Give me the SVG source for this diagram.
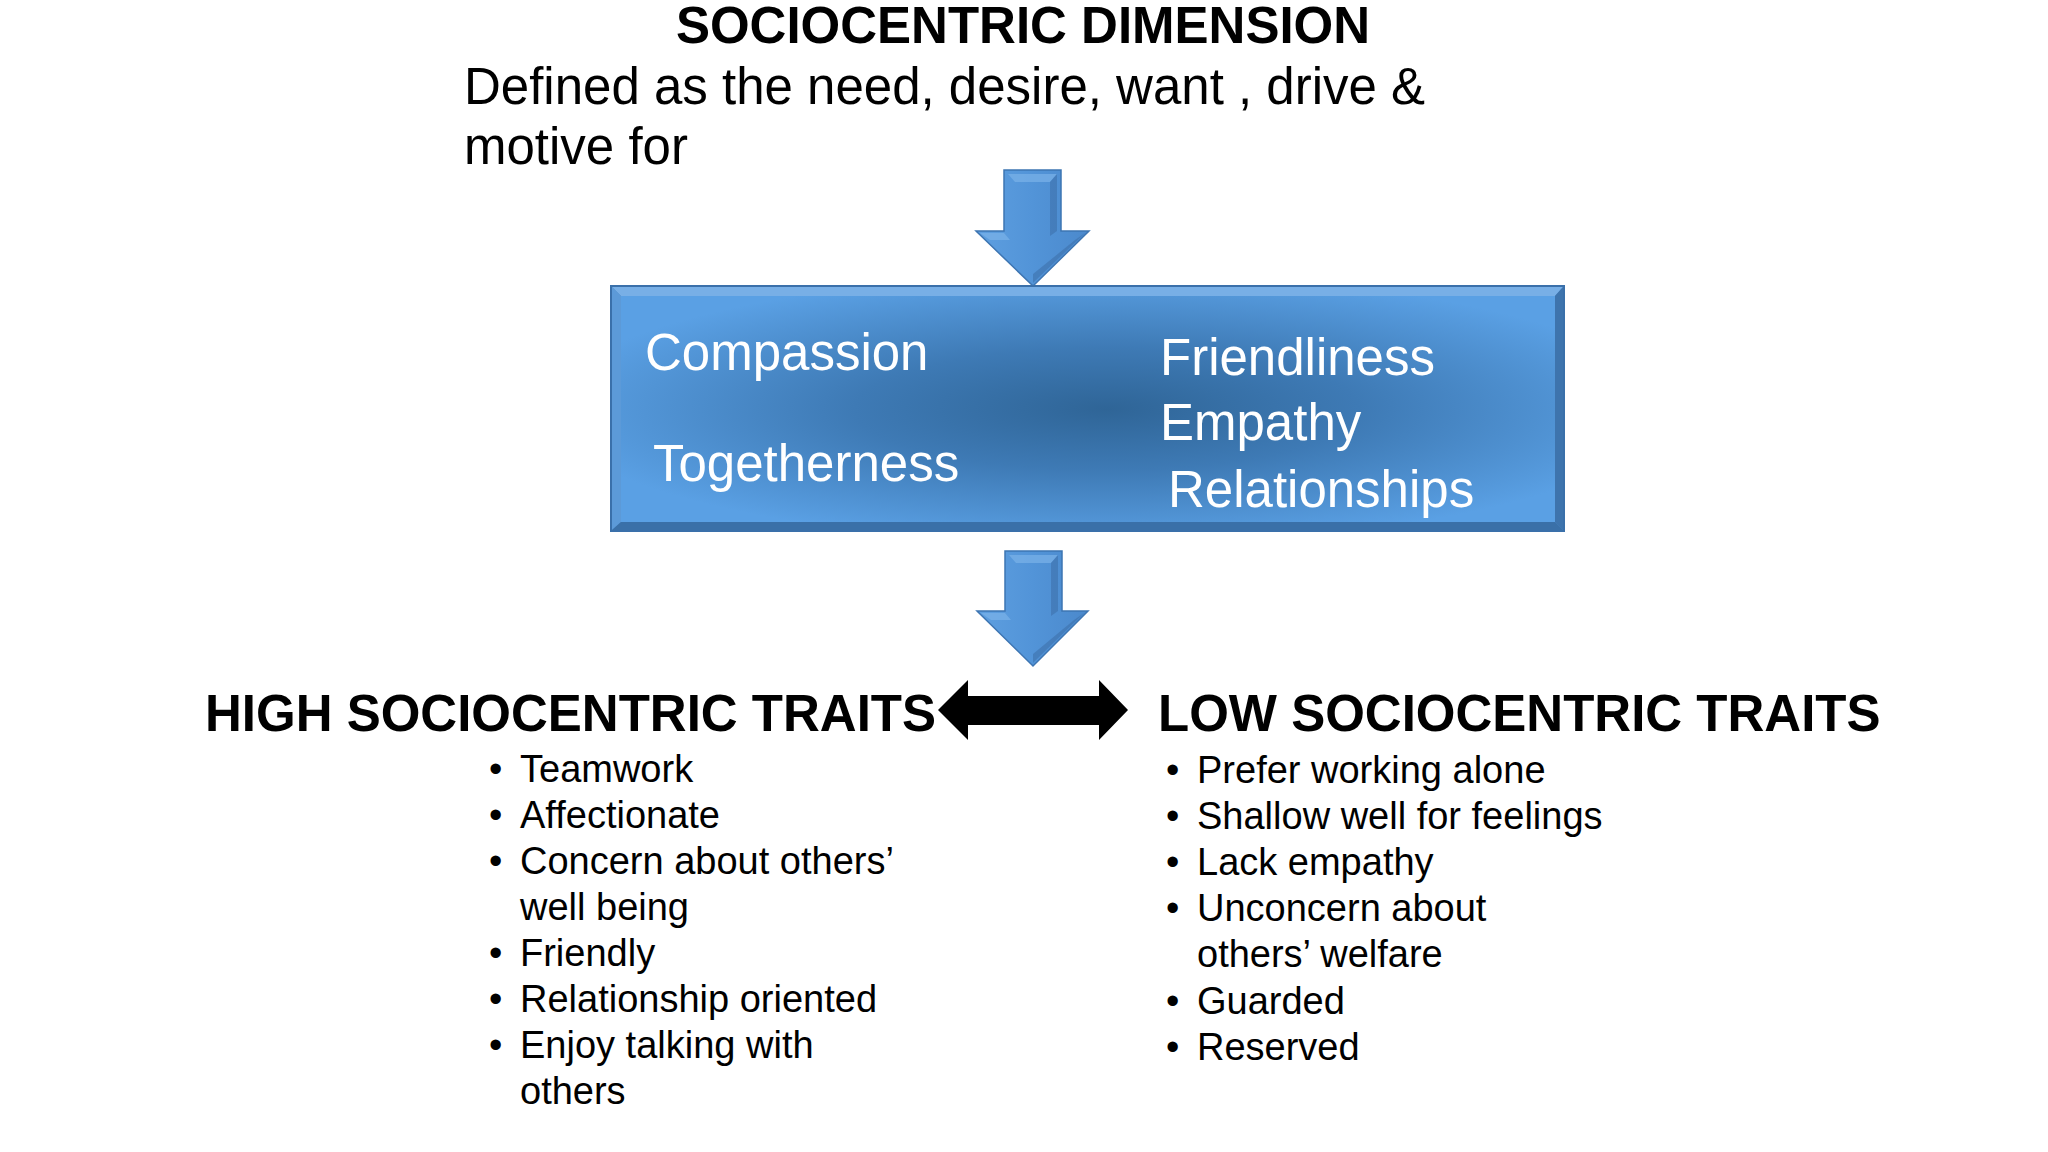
<svg xmlns="http://www.w3.org/2000/svg" width="2048" height="1152" viewBox="0 0 2048 1152">
<style>
text{font-family:"Liberation Sans",Arial,sans-serif;fill:#000}
.h{font-weight:bold;font-size:51px}
.d{font-size:51px}
.w{font-size:51px;fill:#fff}
.b{font-size:38px}
.arrow{fill:url(#ag);stroke:#3d75b2;stroke-width:1.5}
.hl{fill:#7ab2e8;opacity:0.7}
.sh{fill:#3d72ab;opacity:0.6}
</style>
<defs>
<radialGradient id="bg" cx="0.52" cy="0.5" r="0.6">
<stop offset="0" stop-color="#2f6597"/>
<stop offset="0.45" stop-color="#3e7ab5"/>
<stop offset="1" stop-color="#5aa0e4"/>
</radialGradient>
<linearGradient id="ag" x1="0" y1="0" x2="1" y2="0">
<stop offset="0" stop-color="#5e9fe0"/>
<stop offset="0.5" stop-color="#5294d8"/>
<stop offset="1" stop-color="#4b89cc"/>
</linearGradient>
</defs>
<rect width="2048" height="1152" fill="#fff"/>
<g id="title">
<text class="h" x="1023" y="43" text-anchor="middle">SOCIOCENTRIC DIMENSION</text>
<text class="d" x="464" y="104">Defined as the need, desire, want , drive &amp;</text>
<text class="d" x="464" y="164">motive for</text>
</g>
<g id="connectors">
<g id="arrow-top">
<path class="arrow" d="M1004,170 H1061 V231 H1089 L1033,286 L976,231 H1004 Z"/>
<path class="hl" d="M1008,174 H1057 L1050,182 H1015 Z"/>
<path class="sh" d="M1057,174 V231 L1050,236 V182 Z"/>
<path class="hl" d="M980,233 H1004 L1010,240 H990 Z"/>
<path class="sh" d="M1085,233 L1033,283 L1033,274 L1075,240 Z"/>
</g>
<g id="arrow-mid">
<path class="arrow" d="M1005,551 H1062 V611 H1088 L1033,666 L977,611 H1005 Z"/>
<path class="hl" d="M1009,555 H1058 L1051,563 H1016 Z"/>
<path class="sh" d="M1058,555 V611 L1051,616 V563 Z"/>
<path class="hl" d="M981,613 H1005 L1011,620 H991 Z"/>
<path class="sh" d="M1084,613 L1033,663 L1033,654 L1074,620 Z"/>
</g>
<path id="double-arrow" d="M938,710 L968,680 V696 H1099 V680 L1128,710 L1099,740 V725 H968 V740 Z" fill="#000"/>
</g>
<g id="box">
<rect x="611" y="286" width="953" height="245" fill="#4a88c8" stroke="#3a70aa" stroke-width="2"/>
<path d="M612,287 H1563 L1555,296 H621 Z" fill="#78afe6"/>
<path d="M612,287 L621,296 V522 L612,530 Z" fill="#5c9ad8"/>
<path d="M1563,287 V530 L1555,522 V296 Z" fill="#3e74ad"/>
<path d="M612,530 H1563 L1555,522 H621 Z" fill="#3a70a8"/>
<rect x="621" y="296" width="934" height="226" fill="url(#bg)"/>
<text class="w" x="645" y="370">Compassion</text>
<text class="w" x="653" y="481">Togetherness</text>
<text class="w" x="1160" y="375">Friendliness</text>
<text class="w" x="1160" y="440">Empathy</text>
<text class="w" x="1168" y="507">Relationships</text>
</g>
<g id="high">
<text class="h" x="205" y="731">HIGH SOCIOCENTRIC TRAITS</text>
<text class="b" x="489" y="782">•</text><text class="b" x="520" y="782">Teamwork</text>
<text class="b" x="489" y="828">•</text><text class="b" x="520" y="828">Affectionate</text>
<text class="b" x="489" y="874">•</text><text class="b" x="520" y="874">Concern about others’</text>
<text class="b" x="520" y="920">well being</text>
<text class="b" x="489" y="966">•</text><text class="b" x="520" y="966">Friendly</text>
<text class="b" x="489" y="1012">•</text><text class="b" x="520" y="1012">Relationship oriented</text>
<text class="b" x="489" y="1058">•</text><text class="b" x="520" y="1058">Enjoy talking with</text>
<text class="b" x="520" y="1104">others</text>
</g>
<g id="low">
<text class="h" x="1158" y="731">LOW SOCIOCENTRIC TRAITS</text>
<text class="b" x="1166" y="783">•</text><text class="b" x="1197" y="783">Prefer working alone</text>
<text class="b" x="1166" y="829">•</text><text class="b" x="1197" y="829">Shallow well for feelings</text>
<text class="b" x="1166" y="875">•</text><text class="b" x="1197" y="875">Lack empathy</text>
<text class="b" x="1166" y="921">•</text><text class="b" x="1197" y="921">Unconcern about</text>
<text class="b" x="1197" y="967">others’ welfare</text>
<text class="b" x="1166" y="1014">•</text><text class="b" x="1197" y="1014">Guarded</text>
<text class="b" x="1166" y="1060">•</text><text class="b" x="1197" y="1060">Reserved</text>
</g>
</svg>
